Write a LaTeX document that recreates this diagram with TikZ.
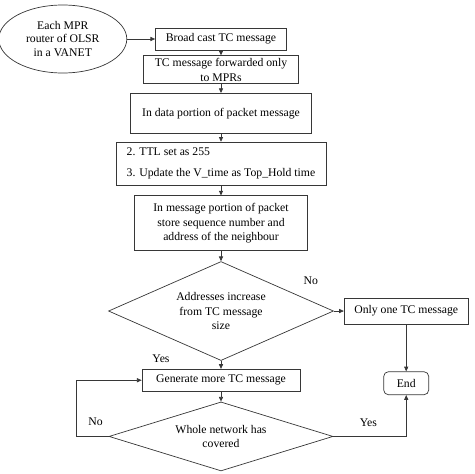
\documentclass[tikz,border=0pt]{standalone}
\usepackage{fontspec}
\setmainfont{Liberation Serif}
\usetikzlibrary{arrows.meta, shapes.geometric, positioning}
\definecolor{linegray}{RGB}{55,55,55}

\begin{document}
\begin{tikzpicture}[
  x=0.03cm, y=-0.03cm,
  node distance=0.3cm,
  box/.style={draw=linegray, line width=0.6pt, inner sep=2pt, align=center,
              font=\fontsize{10}{12.5}\selectfont},
  decision/.style={draw=linegray, line width=0.6pt, diamond, inner sep=0pt,
                   align=center, font=\fontsize{10}{12.5}\selectfont},
  lbl/.style={font=\fontsize{10}{12}\selectfont},
  arrow/.style={-{Triangle[length=4pt, width=3.5pt]}, draw=linegray, line width=0.6pt}
]
  \useasboundingbox (0,0) rectangle (474,474);

  \node[box, minimum width=3.93cm, minimum height=0.66cm] (bcast) at (221,39)
    {Broad cast TC message};
  \node[draw=linegray, line width=0.6pt, ellipse, minimum width=3.84cm,
        minimum height=2.04cm, align=center, font=\fontsize{10}{11.5}\selectfont,
        left=0.84cm of bcast] (start)
    {Each MPR\\router of OLSR\\in a VANET};
  \node[box, minimum width=4.65cm, minimum height=0.84cm, below=0.15cm of bcast] (fwd)
    {TC message forwarded only\\to MPRs};
  \node[box, minimum width=5.43cm, minimum height=1.2cm, below=0.27cm of fwd] (data)
    {In data portion of packet message};
  \node[box, align=left, minimum width=6.3cm, minimum height=1.29cm, below=0.24cm of data] (ttl)
    {2. TTL set as 255\\[5pt]3. Update the V\_time as Top\_Hold time};
  \node[box, minimum width=5.19cm, minimum height=1.65cm, below=0.3cm of ttl] (store)
    {In message portion of packet\\store sequence number and\\address of the neighbour};
  \node[decision, aspect=2.27, minimum width=6.75cm, minimum height=2.97cm,
        below=0.3cm of store] (addr)
    {Addresses increase\\from TC message\\size};
  \node[box, minimum width=3.72cm, minimum height=0.78cm, right=0.3cm of addr] (only)
    {Only one TC message};
  \node[box, minimum width=4.74cm, minimum height=0.66cm, below=0.24cm of addr] (gen)
    {Generate more TC message};
  \node[decision, aspect=3.25, minimum width=6.72cm, minimum height=2.07cm,
        below=0.3cm of gen] (whole)
    {Whole network has\\covered};
  \node[box, rounded corners=4pt, minimum width=1.35cm, minimum height=0.69cm,
        below=1.41cm of only] (end) {End};

  \draw[arrow] (start) -- (bcast);
  \draw[arrow] (bcast) -- (fwd);
  \draw[arrow] (fwd) -- (data);
  \draw[arrow] (data) -- (ttl);
  \draw[arrow] (ttl) -- (store);
  \draw[arrow] (store) -- (addr);
  \draw[arrow] (addr) -- (only);
  \draw[arrow] (only) -- (end);
  \draw[arrow] (addr) -- (gen);
  \draw[arrow] (gen) -- (whole);
  \draw[arrow] (whole.west) -- ++(-32,0) |- (gen);
  \draw[arrow] (whole.east) -| (end);

  \node[lbl] at ([shift={(-23,-30)}]addr.east) {No};
  \node[lbl] at ([shift={(-60,-2)}]addr.south) {Yes};
  \node[lbl] at ([shift={(-13,-15)}]whole.west) {No};
  \node[lbl] at ([shift={(35,-14)}]whole.east) {Yes};
\end{tikzpicture}
\end{document}
